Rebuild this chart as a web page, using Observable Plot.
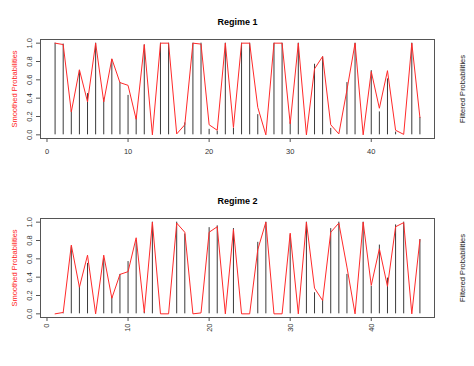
<!DOCTYPE html>
<html><head><meta charset="utf-8">
<script src="https://cdn.jsdelivr.net/npm/d3@7"></script>
<script src="https://cdn.jsdelivr.net/npm/@observablehq/plot@0.6"></script>
<style>
body{margin:0;background:#fff;width:474px;height:366px;overflow:hidden}
svg{display:block}
</style>
</head><body><div id="c"></div>
<script>
const periods = [1,2,3,4,5,6,7,8,9,10,11,12,13,14,15,16,17,18,19,20,21,22,23,24,25,26,27,28,29,30,31,32,33,34,35,36,37,38,39,40,41,42,43,44,45,46];
const smoothed1 = [1.0,0.985,0.25,0.71,0.36,1.0,0.36,0.83,0.57,0.54,0.17,0.985,0.0,1.0,1.0,0.01,0.11,1.0,0.99,0.11,0.05,1.0,0.08,1.0,1.0,0.30,0.0,1.0,1.0,0.12,1.0,0.0,0.72,0.855,0.11,0.01,0.49,1.0,0.0,0.69,0.29,0.70,0.05,0.005,1.0,0.19];
const filtered1 = [1.0,0.99,0.27,0.70,0.45,1.0,0.40,0.82,0.57,0.43,0.20,0.98,0.0,1.0,1.0,0.0,0.13,1.0,1.0,0.06,0.04,1.0,0.07,1.0,1.0,0.22,0.0,1.0,1.0,0.14,1.0,0.0,0.77,0.85,0.07,0.0,0.57,1.0,0.0,0.70,0.25,0.61,0.03,0.0,1.0,0.19];
const smoothed2 = [0.0,0.015,0.75,0.29,0.64,0.0,0.64,0.17,0.43,0.46,0.83,0.015,1.0,0.0,0.0,0.99,0.89,0.0,0.01,0.89,0.95,0.0,0.92,0.0,0.0,0.70,1.0,0.0,0.0,0.88,0.0,1.0,0.28,0.145,0.89,0.99,0.51,0.0,1.0,0.31,0.71,0.30,0.95,0.995,0.0,0.81];
const filtered2 = [0.0,0.01,0.73,0.30,0.55,0.0,0.60,0.18,0.43,0.57,0.80,0.02,1.0,0.0,0.0,1.0,0.87,0.0,0.0,0.94,0.96,0.0,0.93,0.0,0.0,0.78,1.0,0.0,0.0,0.86,0.0,1.0,0.23,0.15,0.93,1.0,0.43,0.0,1.0,0.30,0.75,0.39,0.97,1.0,0.0,0.81];
const xTicks = [0,10,20,30,40];
const yTicks = [0,0.2,0.4,0.6,0.8,1.0];
const titles = ["Regime 1","Regime 2"];
const leftTitle = "Smoothed Probabilities";
const rightTitle = "Filtered Probabilities";

function panel(title, smoothed, filtered, rotatedX, mt, mb) {
  const data = periods.map((t,i)=>({t, s: smoothed[i], f: filtered[i]}));
  const marks = [
    Plot.ruleX(data, {x:"t", y1:0, y2:"f", stroke:"#3a3a3a", strokeWidth:1}),
    Plot.line(data, {x:"t", y:"s", stroke:"#ff2a2a", strokeWidth:1}),
    Plot.frame({stroke:"#555"}),
    Plot.axisY({ticks: yTicks, tickSize:4, tickFormat:()=>"", label:null, stroke:"#555"}),
    Plot.text(yTicks, {y:d=>d, text:d=>d.toFixed(1), frameAnchor:"left", dx:-11, rotate:-90, textAnchor:"middle", lineAnchor:"middle", fill:"#333"}),
    Plot.text([title], {text:d=>d, frameAnchor:"top", dy:-17, textAnchor:"middle", lineAnchor:"middle", fontWeight:"bold", fontSize:9, fill:"#000"}),
    Plot.text([leftTitle], {text:d=>d, frameAnchor:"left", dx:-26, rotate:-90, textAnchor:"middle", lineAnchor:"middle", fill:"#ff2020"}),
    Plot.text([rightTitle], {text:d=>d, frameAnchor:"right", dx:28, rotate:-90, textAnchor:"middle", lineAnchor:"middle", fill:"#222"})
  ];
  if (rotatedX) {
    marks.push(Plot.axisX({ticks: xTicks, tickSize:4, tickFormat:()=>"", label:null, stroke:"#555"}));
    marks.push(Plot.text(xTicks, {x:d=>d, text:d=>String(d), frameAnchor:"bottom", dy:6, rotate:-90, textAnchor:"end", lineAnchor:"middle", fill:"#333"}));
  } else {
    marks.push(Plot.axisX({ticks: xTicks, tickSize:4, tickPadding:6, label:null, stroke:"#555", fill:"#333"}));
  }
  return Plot.plot({
    width:474, height:183,
    marginLeft:40, marginRight:40, marginTop:mt, marginBottom:mb,
    style:{fontFamily:"'Liberation Sans', Arial, sans-serif", fontSize:"7.5px", background:"#fff", color:"#333"},
    x:{domain:[-0.8,47.8]},
    y:{domain:[-0.04,1.04]},
    marks
  });
}
const c = document.getElementById("c");
c.append(panel(titles[0], smoothed1, filtered1, false, 39, 45));
c.append(panel(titles[1], smoothed2, filtered2, true, 35, 49));
</script>
</body></html>
